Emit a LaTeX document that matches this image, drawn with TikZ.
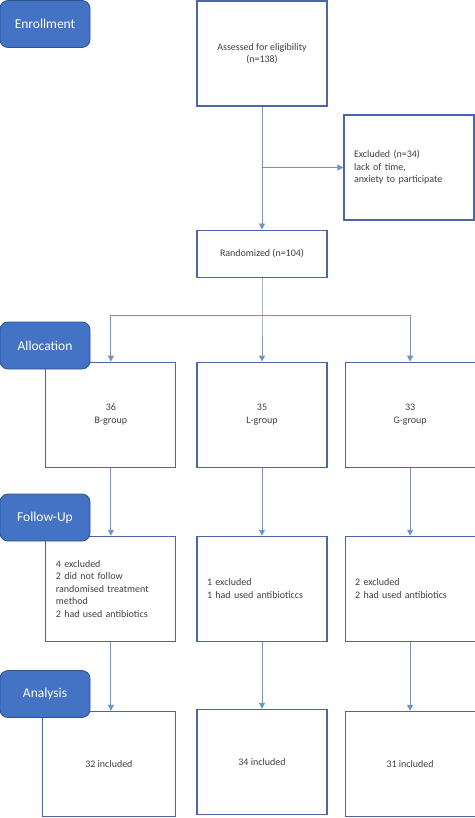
\documentclass[tikz,border=0pt]{standalone}
\usepackage{fontspec}
\setmainfont{Carlito}
\usetikzlibrary{arrows.meta, positioning}
\usepackage{xcolor}
\definecolor{stageblue}{HTML}{4472C4}
\definecolor{stageedge}{HTML}{2F528F}
\definecolor{boxedge}{HTML}{4A66A8}
\definecolor{arrowblue}{HTML}{7191C9}
\definecolor{textgrey}{HTML}{404040}
\tikzset{
  stagebox/.style={rectangle, draw=stageedge, fill=stageblue, thick,
                   rounded corners=8pt, minimum width=90pt, minimum height=47pt,
                   text=white, font=\fontsize{13.5}{15}\selectfont},
  flowbox/.style={rectangle, draw=boxedge, line width=1.1pt, fill=white,
                  minimum width=130pt, minimum height=105pt, align=center,
                  text=textgrey, font=\fontsize{10}{12.5}\selectfont},
  notebox/.style={flowbox, align=left, text width=110pt},
  link/.style={-{Triangle[length=6pt,width=6pt]}, draw=arrowblue, line width=0.9pt},
}

\begin{document}
\begin{tikzpicture}[x=1pt, y=-1pt]
  \useasboundingbox (0,0) rectangle (474,818);

  % --- enrollment ---
  \node[flowbox] (assess) at (262,53.5) {Assessed for eligibility\\(n=138)};
  \node[notebox] (excl) at (409,167.5)
       {Excluded (n=34)\\lack of time,\\anxiety to participate};
  \node[flowbox, minimum height=47pt, below=123pt of assess] (rand) {Randomized (n=104)};

  % --- allocation ---
  \node[flowbox, below=84pt of rand] (lgrp) {35\\L-group};
  \node[flowbox, left=20pt of lgrp] (bgrp) {36\\B-group};
  \node[flowbox, right=17pt of lgrp] (ggrp) {33\\G-group};

  % --- follow-up ---
  \node[notebox, below=68pt of bgrp] (bfup)
       {4 excluded\\2 did not follow\\randomised treatment\\method\\2 had used antibiotics};
  \node[notebox, below=68pt of lgrp] (lfup) {1 excluded\\1 had used antibioticcs};
  \node[notebox, below=68pt of ggrp] (gfup) {2 excluded\\2 had used antibiotics};

  % --- analysis ---
  \node[flowbox, minimum width=133pt, below=69pt of bfup, xshift=-2pt] (bana) {32 included};
  \node[flowbox, below=67pt of lfup] (lana) {34 included};
  \node[flowbox, below=69pt of gfup] (gana) {31 included};

  % Links
  \coordinate (exjoin) at (assess.south |- excl.west);
  \draw[link] (assess) -- (rand);
  \draw[link] (exjoin) -- (excl.west);
  \coordinate[below=38pt of rand] (split);
  \draw[link] (rand) -- (split) -- (lgrp);
  \draw[link] (split) -| (bgrp);
  \draw[link] (split) -| (ggrp);
  \draw[link] (bgrp) -- (bfup);
  \draw[link] (lgrp) -- (lfup);
  \draw[link] (ggrp) -- (gfup);
  \draw[link] (bfup.south) -- (bfup.south |- bana.north);
  \draw[link] (lfup) -- (lana);
  \draw[link] (gfup) -- (gana);

  % --- stage labels ---
  \node[stagebox] (enrol) at (45,24) {Enrollment};
  \node[stagebox] (alloc) at (45,345.5) {Allocation};
  \node[stagebox] (follow) at (45,517.5) {Follow-Up};
  \node[stagebox] (analys) at (45,694) {Analysis};

\end{tikzpicture}
\end{document}
